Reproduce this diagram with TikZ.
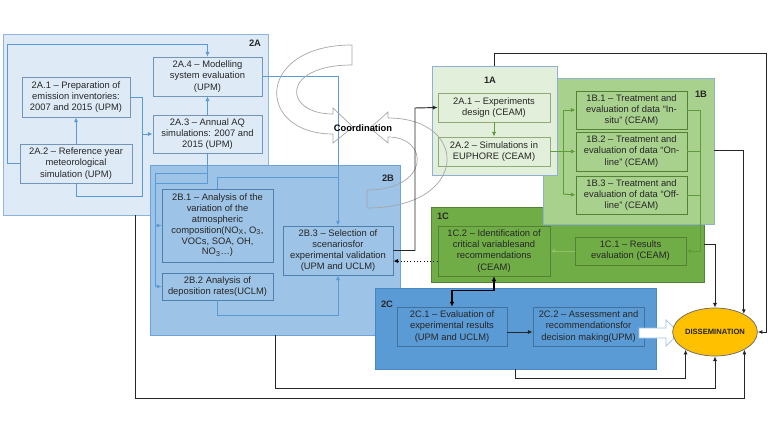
\documentclass[tikz,border=0pt]{standalone}
\usepackage{fontspec}
\setmainfont{Liberation Sans}
\usepackage{tikz}
\usetikzlibrary{arrows.meta, fit, shapes.geometric}
\definecolor{txt}{HTML}{262626}
\definecolor{fillA}{HTML}{DEEBF7}
\definecolor{edgeA}{HTML}{8DB4DC}
\definecolor{boxedgeA}{HTML}{7495BA}
\definecolor{fillB}{HTML}{9DC3E6}
\definecolor{edgeB}{HTML}{6FA3D6}
\definecolor{boxedgeB}{HTML}{4F7FAF}
\definecolor{fillC}{HTML}{5B9BD5}
\definecolor{edgeC}{HTML}{4A88C4}
\definecolor{boxedgeC}{HTML}{41719C}
\definecolor{fillOneA}{HTML}{E2EFDA}
\definecolor{fillOneB}{HTML}{A9D18E}
\definecolor{fillOneC}{HTML}{70AD47}
\definecolor{edgeGreen}{HTML}{8FB0D2}
\definecolor{boxedgeOneA}{HTML}{8EAB78}
\definecolor{boxedgeOneB}{HTML}{548235}
\definecolor{linkblue}{HTML}{5B9BD5}
\definecolor{linkgreen}{HTML}{5E9B3A}
\definecolor{linkgreenlt}{HTML}{8CC168}
\definecolor{coordgray}{HTML}{A6A6A6}
\definecolor{gold}{HTML}{FFC000}
\tikzset{
  panel/.style={
    draw,
    line width=0.6pt,
    inner sep=0pt
  },
  tag/.style={
    font=\fontsize{8}{9}\selectfont\bfseries,
    text=txt,
    inner sep=0pt
  },
  task/.style={
    draw,
    line width=0.6pt,
    inner sep=0pt,
    align=center,
    text=txt,
    font=\fontsize{8}{9.5}\selectfont
  },
  box size/.style 2 args={
    minimum width=#1*0.03cm,
    minimum height=#2*0.03cm
  },
  blue link/.style={
    -{Latex[length=4pt,width=3.5pt]},
    line width=0.8pt,
    color=linkblue
  },
  blue line/.style={
    line width=0.8pt,
    color=linkblue
  },
  green link/.style={
    -{Latex[length=4pt,width=3.5pt]},
    line width=0.8pt,
    color=linkgreen
  },
  green line/.style={
    line width=0.8pt,
    color=linkgreen
  },
  black link/.style={
    -{Latex[length=4pt,width=3.5pt]},
    line width=0.8pt,
    color=black!85
  },
  dot link/.style={
    -{Latex[length=4pt,width=3.5pt]},
    line width=0.8pt,
    dotted,
    color=black
  },
  both link/.style={
    {Latex[length=4pt,width=4pt]}-{Latex[length=4pt,width=4pt]},
    line width=1.4pt,
    color=black
  },
  coord shape/.style={
    draw=coordgray,
    line width=0.6pt
  }
}

\begin{document}
\begin{tikzpicture}[x=0.03cm, y=-0.03cm]
  \useasboundingbox (0,0) rectangle (768,432);

  % 2A - modelling
  \node[panel, fill=fillA, draw=edgeA, fit={(3,34) (268,215)}] (p2A) {};
  \node[tag] (t2A) at (255,43) {2A};
  \node[task, fill=fillA, draw=boxedgeA, box size={109}{39}] (a4) at (207.5,76.5) {2A.4 – Modelling\\system evaluation\\(UPM)};
  \node[task, fill=fillA, draw=boxedgeA, box size={108}{40}] (a1) at (76,97) {2A.1 – Preparation of\\emission inventories:\\2007 and 2015 (UPM)};
  \node[task, fill=fillA, draw=boxedgeA, box size={109}{38}] (a3) at (207.5,134) {2A.3 – Annual AQ\\simulations:  2007 and\\2015 (UPM)};
  \node[task, fill=fillA, draw=boxedgeA, box size={112}{39}] (a2) at (76,163.5) {2A.2 – Reference year\\meteorological\\simulation (UPM)};

  % 2B - analysis
  \node[panel, fill=fillB, draw=edgeB, fit={(150,165) (400,335)}] (p2B) {};
  \node[tag] (t2B) at (388,178) {2B};
  \node[task, fill=fillB, draw=boxedgeB, box size={111}{73}, font=\fontsize{8}{9.2}\selectfont] (b1) at (217.5,225.5) {2B.1 – Analysis of the\\variation of the\\atmospheric\\composition(NO\textsubscript{X}, O\textsubscript{3},\\VOCs, SOA, OH,\\NO\textsubscript{3}…)};
  \node[task, fill=fillB, draw=boxedgeB, box size={111}{27}] (b2) at (217.5,286.5) {2B.2 Analysis of\\deposition rates(UCLM)};
  \node[task, fill=fillB, draw=boxedgeB, box size={110}{49}] (b3) at (338,250.5) {2B.3 – Selection of\\scenariosfor\\experimental validation\\(UPM and UCLM)};

  % joints of the blue links
  \coordinate (jA) at (142,134);
  \coordinate (jB) at (142,196);
  \coordinate (jC) at (155,183);
  \coordinate (jD) at (155,173);
  \coordinate (jE) at (155,226);
  \coordinate (jF) at (7,44);
  \draw[blue link] (a2.west) -| (jF) -| (a4.north);
  \draw[blue link] (a2.north) -- (a1.south);
  \draw[blue link] (a1.east) -| (jA) -- (a3.west);
  \draw[blue line] (a2.south) |- (jB) -- (jA);
  \draw[blue link] (a3.north) -- (a4.south);
  \draw[blue link] (a4.east) -| (b3.north);
  \draw[blue line] (jC) -- (jD) -| (a3.south);
  \draw[blue link] (a3.south) |- (jC) |- (b1.west);
  \draw[blue link] (jE) |- (b2.west);
  \draw[blue line] (b1.north) |- (b3.north |- 0,177);
  \draw[blue link] (b2.south) -- ++(0,15) -| (b3.south);

  % 1C, 1B, 1A - experiments
  \node[panel, fill=fillOneC, draw=boxedgeOneB, fit={(431,207) (704,282)}] (p1C) {};
  \node[tag] (t1C) at (443,216) {1C};
  \node[task, fill=fillOneC, draw=boxedgeOneB, box size={112}{50}] (c12) at (494,251) {1C.2 – Identification of\\critical variablesand\\recommendations\\(CEAM)};
  \node[task, fill=fillOneC, draw=boxedgeOneB, box size={111}{28}] (c11) at (630.5,251) {1C.1 – Results\\evaluation (CEAM)};

  \node[panel, fill=fillOneB, draw=edgeGreen, fit={(543,78) (714,224)}] (p1B) {};
  \node[tag] (t1B) at (701,94) {1B};
  \node[task, fill=fillOneB, draw=boxedgeOneB, box size={111}{38}] (g1) at (631.5,110) {1B.1 – Treatment and\\evaluation of data “In-\\situ” (CEAM)};
  \node[task, fill=fillOneB, draw=boxedgeOneB, box size={111}{39}] (g2) at (631.5,151.5) {1B.2 – Treatment and\\evaluation of data “On-\\line” (CEAM)};
  \node[task, fill=fillOneB, draw=boxedgeOneB, box size={111}{38}] (g3) at (631.5,195) {1B.3 – Treatment and\\evaluation of data “Off-\\line” (CEAM)};

  \node[panel, fill=fillOneA, draw=edgeGreen, fit={(432,66) (557,175)}] (p1A) {};
  \node[tag] (t1A) at (490,80) {1A};
  \node[task, fill=fillOneA, draw=boxedgeOneA, box size={112}{29}] (e1) at (494,107.5) {2A.1 – Experiments\\design (CEAM)};
  \node[task, fill=fillOneA, draw=boxedgeOneA, box size={112}{29}] (e2) at (494,151.5) {2A.2 – Simulations in\\EUPHORE (CEAM)};

  % 2C - assessment
  \node[panel, fill=fillC, draw=edgeC, fit={(375,288) (656,369)}] (p2C) {};
  \node[tag] (t2C) at (387,304) {2C};
  \node[task, fill=fillC, draw=boxedgeC, box size={110}{39}] (cc1) at (452,326.5) {2C.1 – Evaluation of\\experimental results\\(UPM and UCLM)};
  \node[task, fill=fillC, draw=boxedgeC, box size={111}{39}] (cc2) at (588.5,326.5) {2C.2 – Assessment and\\recommendationsfor\\decision making(UPM)};

  % green links
  \coordinate (jG) at (563,110);
  \coordinate (jH) at (563,194);
  \coordinate (jI) at (700,110);
  \draw[green link] (e1.south) -- (e2.north);
  \draw[green link] (e2.east) -- (g2.west);
  \draw[green line] (jG) -- (jH);
  \draw[green link] (jG) -- (g1.west);
  \draw[green link] (jH) -- (g3.west);
  \draw[green link] (g1.east) -- (jI) |- (c11.east);
  \draw[green line] (g2.east) -- (g2.east -| jI);
  \draw[green line] (g3.east) -- (g3.east -| jI);
  \draw[-{Latex[length=4pt,width=3.5pt]}, line width=0.8pt, linkgreenlt] (c11.west) -- (c12.east);

  % coordination
  \draw[coord shape] (352,45) .. controls (255,45) and (255,134) .. (333,134) -- (333,143) -- (353,127) -- (333,108) -- (333,114) .. controls (283,114) and (280,65) .. (352,65) -- cycle;
  \draw[coord shape] (388,118) .. controls (470,118) and (470,208) .. (367,208) -- (367,190) .. controls (430,190) and (430,137) .. (388,137) -- (388,143) -- (370,128) -- (388,112) -- cycle;
  \node[tag, text=black] (coord) at (363,128) {Coordination};

  % dissemination
  \draw[fill=white, draw=fillB, line width=0.6pt] (639,328) -- (666,328) -- (666,320) -- (679,333) -- (666,346) -- (666,338) -- (639,338) -- cycle;
  \node[ellipse, fill=gold, draw=black!60, line width=0.6pt, minimum width=2.4cm, minimum height=1.44cm, inner sep=0pt, text=txt, font=\fontsize{6.5}{7}\selectfont\bfseries] (diss) at (715,332) {DISSEMINATION};

  % black links
  \coordinate (jK) at (415,108);
  \coordinate (jL) at (766,53);
  \draw[black link] (b3.east) -| (jK) -- (e1.west);
  \draw[dot link] (c12.west |- 0,261) -- (b3.east |- 0,261);
  \draw[both link] (c12.south) -- ++(0,14) -| (cc1.north);
  \draw[black link] (cc1.east |- 0,332) -- (cc2.west |- 0,332);
  \draw[black link] (p1A.north) |- (jL) |- (diss.east);
  \draw[black link] (p1B.east |- 0,150) -| (diss.32);
  \draw[black link] (p1C.east |- 0,244) -| (diss.north);
  \draw[black link] (p2C.south) -- ++(0,9) -| (diss.211);
  \draw[black link] (p2B.south) -- ++(0,53) -| (diss.south);
  \draw[black link] (p2A.south) -- ++(0,183) -| (diss.329);

\end{tikzpicture}
\end{document}
